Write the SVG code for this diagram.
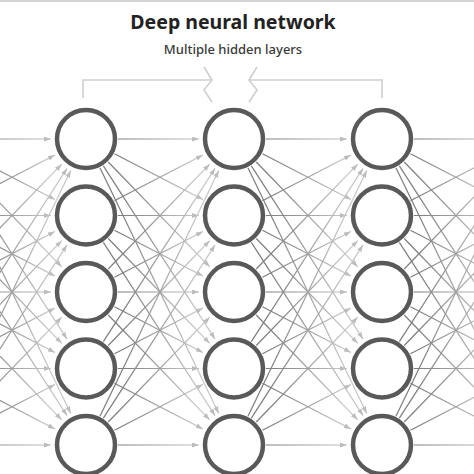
<svg xmlns="http://www.w3.org/2000/svg" width="474" height="474" viewBox="0 0 474 474">
<style>
.node{fill:#fff;stroke:#595959;stroke-width:4.5}
.c{stroke-width:1.2;fill:none}
.a{marker-end:url(#ah)}
.g0{stroke:url(#gr0)}.g1{stroke:url(#gr1)}.g2{stroke:url(#gr2)}.g3{stroke:url(#gr3)}
.br{fill:none;stroke:#cfcfcf;stroke-width:1.6}
.title{font-family:"Noto Sans","Open Sans","Liberation Sans",sans-serif;font-weight:700;font-size:19.5px;fill:#222}
.sub{font-family:"Noto Sans","Open Sans","Liberation Sans",sans-serif;font-weight:500;font-size:13px;fill:#3a3a3a}
</style>
<defs>
<marker id="ah" viewBox="0 0 7 5" refX="7" refY="2.5" markerWidth="7" markerHeight="5" markerUnits="userSpaceOnUse" orient="auto"><path d="M0,0 L7,2.5 L0,5 z" fill="#bdbdbd"/></marker>
<linearGradient id="gr0" gradientUnits="userSpaceOnUse" x1="-30" y1="0" x2="51" y2="0"><stop offset="0" stop-color="#7c7c7c"/><stop offset="1" stop-color="#c6c6c6"/></linearGradient>
<linearGradient id="gr1" gradientUnits="userSpaceOnUse" x1="118" y1="0" x2="199" y2="0"><stop offset="0" stop-color="#7c7c7c"/><stop offset="1" stop-color="#c6c6c6"/></linearGradient>
<linearGradient id="gr2" gradientUnits="userSpaceOnUse" x1="266" y1="0" x2="347" y2="0"><stop offset="0" stop-color="#7c7c7c"/><stop offset="1" stop-color="#c6c6c6"/></linearGradient>
<linearGradient id="gr3" gradientUnits="userSpaceOnUse" x1="414" y1="0" x2="495" y2="0"><stop offset="0" stop-color="#7c7c7c"/><stop offset="1" stop-color="#c6c6c6"/></linearGradient>
</defs>
<rect x="0" y="0" width="474" height="474" fill="#fff"/>
<rect x="0" y="0" width="474" height="2" fill="#d4d4d4"/>
<text class="title" x="233" y="29" text-anchor="middle">Deep neural network</text>
<text class="sub" x="233" y="54" text-anchor="middle">Multiple hidden layers</text>
<g id="bracket">
<path class="br" d="M83,98 V80 H212"/>
<path class="br" d="M204,67 L212,80 L204,90 L212,102"/>
<path class="br" d="M382,98 V80 H249"/>
<path class="br" d="M257,67 L249,80 L257,90 L249,102"/>
</g>
<g id="connectors">
<g class="c g0 a">
<line x1="-30" y1="139" x2="51" y2="139"/>
<line x1="-33.57" y1="153.69" x2="54.91" y2="199.43"/>
<line x1="-39.75" y1="162" x2="61.67" y2="266.84"/>
<line x1="-44.66" y1="165.89" x2="67.03" y2="339.09"/>
<line x1="-48.07" y1="167.81" x2="70.76" y2="413.49"/>
<line x1="-33.57" y1="200.81" x2="54.91" y2="155.07"/>
<line x1="-30" y1="215.5" x2="51" y2="215.5"/>
<line x1="-33.57" y1="230.19" x2="54.91" y2="275.93"/>
<line x1="-39.75" y1="238.5" x2="61.67" y2="343.34"/>
<line x1="-44.66" y1="242.39" x2="67.03" y2="415.59"/>
<line x1="-39.75" y1="269" x2="61.67" y2="164.16"/>
<line x1="-33.57" y1="277.31" x2="54.91" y2="231.57"/>
<line x1="-30" y1="292" x2="51" y2="292"/>
<line x1="-33.57" y1="306.69" x2="54.91" y2="352.43"/>
<line x1="-39.75" y1="315" x2="61.67" y2="419.84"/>
<line x1="-44.66" y1="341.61" x2="67.03" y2="168.41"/>
<line x1="-39.75" y1="345.5" x2="61.67" y2="240.66"/>
<line x1="-33.57" y1="353.81" x2="54.91" y2="308.07"/>
<line x1="-30" y1="368.5" x2="51" y2="368.5"/>
<line x1="-33.57" y1="383.19" x2="54.91" y2="428.93"/>
<line x1="-48.07" y1="416.19" x2="70.76" y2="170.51"/>
<line x1="-44.66" y1="418.11" x2="67.03" y2="244.91"/>
<line x1="-39.75" y1="422" x2="61.67" y2="317.16"/>
<line x1="-33.57" y1="430.31" x2="54.91" y2="384.57"/>
<line x1="-30" y1="445" x2="51" y2="445"/>
</g>
<g class="c g1 a">
<line x1="118" y1="139" x2="199" y2="139"/>
<line x1="114.43" y1="153.69" x2="202.91" y2="199.43"/>
<line x1="108.25" y1="162" x2="209.67" y2="266.84"/>
<line x1="103.34" y1="165.89" x2="215.03" y2="339.09"/>
<line x1="99.93" y1="167.81" x2="218.76" y2="413.49"/>
<line x1="114.43" y1="200.81" x2="202.91" y2="155.07"/>
<line x1="118" y1="215.5" x2="199" y2="215.5"/>
<line x1="114.43" y1="230.19" x2="202.91" y2="275.93"/>
<line x1="108.25" y1="238.5" x2="209.67" y2="343.34"/>
<line x1="103.34" y1="242.39" x2="215.03" y2="415.59"/>
<line x1="108.25" y1="269" x2="209.67" y2="164.16"/>
<line x1="114.43" y1="277.31" x2="202.91" y2="231.57"/>
<line x1="118" y1="292" x2="199" y2="292"/>
<line x1="114.43" y1="306.69" x2="202.91" y2="352.43"/>
<line x1="108.25" y1="315" x2="209.67" y2="419.84"/>
<line x1="103.34" y1="341.61" x2="215.03" y2="168.41"/>
<line x1="108.25" y1="345.5" x2="209.67" y2="240.66"/>
<line x1="114.43" y1="353.81" x2="202.91" y2="308.07"/>
<line x1="118" y1="368.5" x2="199" y2="368.5"/>
<line x1="114.43" y1="383.19" x2="202.91" y2="428.93"/>
<line x1="99.93" y1="416.19" x2="218.76" y2="170.51"/>
<line x1="103.34" y1="418.11" x2="215.03" y2="244.91"/>
<line x1="108.25" y1="422" x2="209.67" y2="317.16"/>
<line x1="114.43" y1="430.31" x2="202.91" y2="384.57"/>
<line x1="118" y1="445" x2="199" y2="445"/>
</g>
<g class="c g2 a">
<line x1="266" y1="139" x2="347" y2="139"/>
<line x1="262.43" y1="153.69" x2="350.91" y2="199.43"/>
<line x1="256.25" y1="162" x2="357.67" y2="266.84"/>
<line x1="251.34" y1="165.89" x2="363.03" y2="339.09"/>
<line x1="247.93" y1="167.81" x2="366.76" y2="413.49"/>
<line x1="262.43" y1="200.81" x2="350.91" y2="155.07"/>
<line x1="266" y1="215.5" x2="347" y2="215.5"/>
<line x1="262.43" y1="230.19" x2="350.91" y2="275.93"/>
<line x1="256.25" y1="238.5" x2="357.67" y2="343.34"/>
<line x1="251.34" y1="242.39" x2="363.03" y2="415.59"/>
<line x1="256.25" y1="269" x2="357.67" y2="164.16"/>
<line x1="262.43" y1="277.31" x2="350.91" y2="231.57"/>
<line x1="266" y1="292" x2="347" y2="292"/>
<line x1="262.43" y1="306.69" x2="350.91" y2="352.43"/>
<line x1="256.25" y1="315" x2="357.67" y2="419.84"/>
<line x1="251.34" y1="341.61" x2="363.03" y2="168.41"/>
<line x1="256.25" y1="345.5" x2="357.67" y2="240.66"/>
<line x1="262.43" y1="353.81" x2="350.91" y2="308.07"/>
<line x1="266" y1="368.5" x2="347" y2="368.5"/>
<line x1="262.43" y1="383.19" x2="350.91" y2="428.93"/>
<line x1="247.93" y1="416.19" x2="366.76" y2="170.51"/>
<line x1="251.34" y1="418.11" x2="363.03" y2="244.91"/>
<line x1="256.25" y1="422" x2="357.67" y2="317.16"/>
<line x1="262.43" y1="430.31" x2="350.91" y2="384.57"/>
<line x1="266" y1="445" x2="347" y2="445"/>
</g>
<g class="c g3">
<line x1="414" y1="139" x2="495" y2="139"/>
<line x1="410.43" y1="153.69" x2="498.91" y2="199.43"/>
<line x1="404.25" y1="162" x2="505.67" y2="266.84"/>
<line x1="399.34" y1="165.89" x2="511.03" y2="339.09"/>
<line x1="395.93" y1="167.81" x2="514.76" y2="413.49"/>
<line x1="410.43" y1="200.81" x2="498.91" y2="155.07"/>
<line x1="414" y1="215.5" x2="495" y2="215.5"/>
<line x1="410.43" y1="230.19" x2="498.91" y2="275.93"/>
<line x1="404.25" y1="238.5" x2="505.67" y2="343.34"/>
<line x1="399.34" y1="242.39" x2="511.03" y2="415.59"/>
<line x1="404.25" y1="269" x2="505.67" y2="164.16"/>
<line x1="410.43" y1="277.31" x2="498.91" y2="231.57"/>
<line x1="414" y1="292" x2="495" y2="292"/>
<line x1="410.43" y1="306.69" x2="498.91" y2="352.43"/>
<line x1="404.25" y1="315" x2="505.67" y2="419.84"/>
<line x1="399.34" y1="341.61" x2="511.03" y2="168.41"/>
<line x1="404.25" y1="345.5" x2="505.67" y2="240.66"/>
<line x1="410.43" y1="353.81" x2="498.91" y2="308.07"/>
<line x1="414" y1="368.5" x2="495" y2="368.5"/>
<line x1="410.43" y1="383.19" x2="498.91" y2="428.93"/>
<line x1="395.93" y1="416.19" x2="514.76" y2="170.51"/>
<line x1="399.34" y1="418.11" x2="511.03" y2="244.91"/>
<line x1="404.25" y1="422" x2="505.67" y2="317.16"/>
<line x1="410.43" y1="430.31" x2="498.91" y2="384.57"/>
<line x1="414" y1="445" x2="495" y2="445"/>
</g>
</g>
<g id="layer1">
<g id="n1-1"><circle class="node" cx="86" cy="139" r="29"/></g>
<g id="n1-2"><circle class="node" cx="86" cy="215.5" r="29"/></g>
<g id="n1-3"><circle class="node" cx="86" cy="292" r="29"/></g>
<g id="n1-4"><circle class="node" cx="86" cy="368.5" r="29"/></g>
<g id="n1-5"><circle class="node" cx="86" cy="445" r="29"/></g>
</g>
<g id="layer2">
<g id="n2-1"><circle class="node" cx="234" cy="139" r="29"/></g>
<g id="n2-2"><circle class="node" cx="234" cy="215.5" r="29"/></g>
<g id="n2-3"><circle class="node" cx="234" cy="292" r="29"/></g>
<g id="n2-4"><circle class="node" cx="234" cy="368.5" r="29"/></g>
<g id="n2-5"><circle class="node" cx="234" cy="445" r="29"/></g>
</g>
<g id="layer3">
<g id="n3-1"><circle class="node" cx="382" cy="139" r="29"/></g>
<g id="n3-2"><circle class="node" cx="382" cy="215.5" r="29"/></g>
<g id="n3-3"><circle class="node" cx="382" cy="292" r="29"/></g>
<g id="n3-4"><circle class="node" cx="382" cy="368.5" r="29"/></g>
<g id="n3-5"><circle class="node" cx="382" cy="445" r="29"/></g>
</g>
</svg>
